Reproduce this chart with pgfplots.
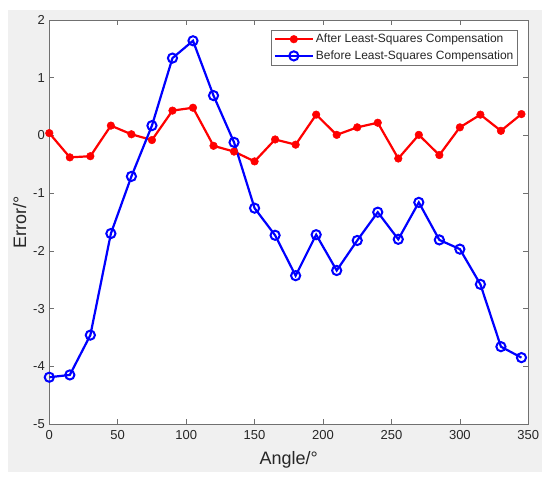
\documentclass[border=0pt]{standalone}
\usepackage{pgfplots}
\pgfplotsset{compat=1.18}
\usepackage{fontspec}
\setmainfont{Liberation Sans}
\definecolor{bggray}{HTML}{F0F0F0}
\definecolor{axgray}{HTML}{707070}
\definecolor{txtgray}{HTML}{262626}
\pgfplotstableread{
x after before
0 0.04 -4.19
15 -0.38 -4.15
30 -0.36 -3.46
45 0.17 -1.70
60 0.02 -0.71
75 -0.08 0.17
90 0.43 1.34
105 0.48 1.64
120 -0.18 0.69
135 -0.28 -0.12
150 -0.45 -1.26
165 -0.07 -1.73
180 -0.16 -2.43
195 0.36 -1.72
210 0.01 -2.34
225 0.14 -1.82
240 0.22 -1.33
255 -0.40 -1.80
270 0.01 -1.16
285 -0.34 -1.81
300 0.14 -1.97
315 0.36 -2.58
330 0.08 -3.66
345 0.37 -3.85
}\datatable
\begin{document}
\begin{tikzpicture}[x=1pt,y=1pt]
\useasboundingbox (-49.3,-61) rectangle (500.7,424);
\fill[bggray] (-41.3,-48) rectangle (492.7,414);
\begin{axis}[
  at={(0,0)}, anchor=south west,
  scale only axis, width=479pt, height=404pt,
  xmin=0, xmax=350, ymin=-5, ymax=2,
  xtick={0,50,...,350}, ytick={-5,-4,...,2},
  tick align=inside, major tick length=5pt,
  axis line style={axgray, line width=0.6pt},
  every tick/.style={axgray, line width=0.6pt},
  axis background/.style={fill=white},
  /pgf/number format/assume math mode=true,
  tick label style={font=\fontsize{13}{15}\selectfont, text=txtgray},
  xticklabel style={yshift=-2.5pt},
  yticklabel style={xshift=-1pt},
  xlabel={Angle/°}, ylabel={Error/°},
  label style={font=\fontsize{18}{20}\selectfont, text=txtgray},
  xlabel style={yshift=-5pt},
  legend style={at={(1,1)}, anchor=north east, xshift=-10.6pt, yshift=-9.8pt,
    font=\fontsize{12}{14}\selectfont, draw=axgray, line width=0.6pt,
    inner xsep=2pt, inner ysep=3pt, row sep=4.5pt,
    nodes={inner xsep=2pt, inner ysep=1pt}, text=txtgray},
  legend cell align=left,
  legend image code/.code={\draw[mark repeat=2,mark phase=2,#1] plot coordinates {(0pt,0pt) (19pt,0pt) (38pt,0pt)};},
]
\addplot[red, line width=2.2pt, mark=*, mark size=3.8pt, mark options={solid, fill=red, draw=red, line width=0.5pt}] table[x=x, y=after] {\datatable};
\addlegendentry{After Least-Squares Compensation}
\addplot[blue, line width=2.2pt, mark=o, mark size=4.6pt, mark options={solid, draw=blue, line width=2pt}] table[x=x, y=before] {\datatable};
\addlegendentry{Before Least-Squares Compensation}
\end{axis}
\end{tikzpicture}
\end{document}
